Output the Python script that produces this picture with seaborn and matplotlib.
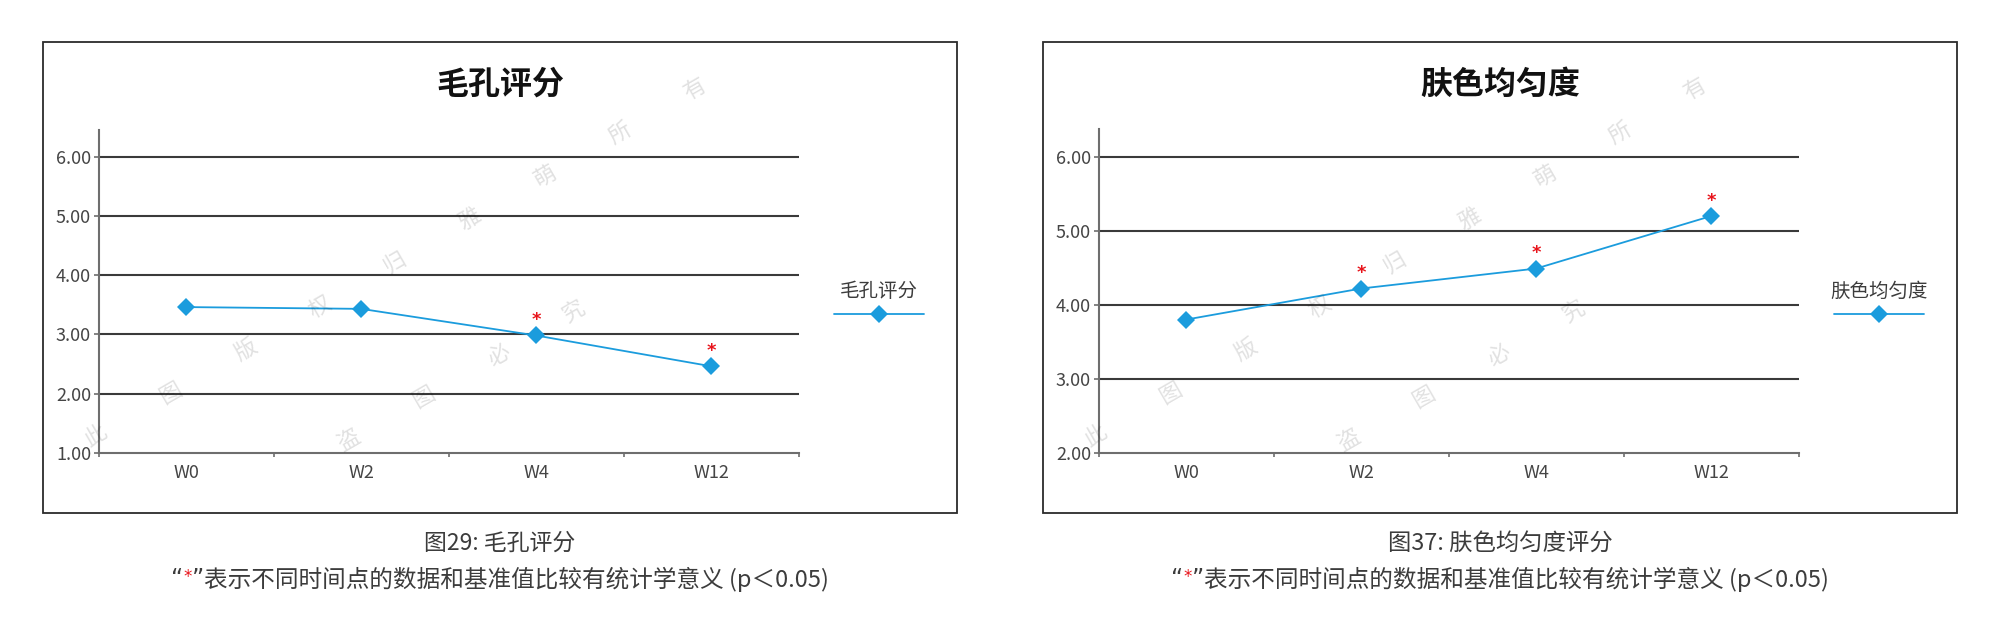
import matplotlib
matplotlib.use("Agg")
import matplotlib.pyplot as plt
import seaborn as sns
import pandas as pd
from matplotlib.patches import Rectangle
from matplotlib.lines import Line2D

# ---------------- data ----------------
categories = ["W0", "W2", "W4", "W12"]
pore_values = [3.46, 3.43, 2.98, 2.46]
pore_sig = [False, False, True, True]
tone_values = [3.80, 4.22, 4.49, 5.20]
tone_sig = [False, True, True, True]
pore_yticks = [1.0, 2.0, 3.0, 4.0, 5.0, 6.0]
tone_yticks = [2.0, 3.0, 4.0, 5.0, 6.0]
titles = ["毛孔评分", "肤色均匀度"]
captions = ["图29: 毛孔评分", "图37: 肤色均匀度评分"]
caption_sizes = [16.5, 16.8]
note_parts = ["“", "*", "”", "表示不同时间点的数据和基准值比较有统计学意义 (p＜0.05)"]
watermark1 = list("此图版权归雅萌所有")
watermark2 = list("盗图必究")

# ---------------- style ----------------
sns.set_theme(style="white")
plt.rcParams["font.family"] = ["Noto Sans CJK SC", "DejaVu Sans"]
plt.rcParams["axes.unicode_minus"] = False

LINE_C = "#1B9CDD"
TXT_C = "#3c3c3c"
W, H = 2000, 625
fig = plt.figure(figsize=(20, 6.25), dpi=100)

def fx(px):
    return px / W

def fy(py):
    return 1 - py / H

panels = [
    dict(off=0, vals=pore_values, sig=pore_sig, yt=pore_yticks, ylim=(1.0, 6.46),
         title=titles[0], cap=captions[0], capfs=caption_sizes[0]),
    dict(off=1000, vals=tone_values, sig=tone_sig, yt=tone_yticks, ylim=(2.0, 6.37),
         title=titles[1], cap=captions[1], capfs=caption_sizes[1]),
]

for p in panels:
    off = p["off"]
    ax = fig.add_axes([fx(off + 98.7), fy(452.7), 700 / W, (452.7 - 129.5) / H])
    df = pd.DataFrame({"idx": range(len(categories)), "val": p["vals"]})
    sns.lineplot(data=df, x="idx", y="val", ax=ax, color=LINE_C, linewidth=1.3,
                 marker="D", markersize=9, markeredgewidth=0, label=p["title"], zorder=5)
    ax.set_xlim(-0.5, len(categories) - 0.5)
    ax.set_ylim(*p["ylim"])
    ax.set_yticks(p["yt"])
    ax.set_yticklabels([f"{v:.2f}" for v in p["yt"]])
    ax.set_xticks(range(len(categories)))
    ax.set_xticklabels(categories)
    ax.set_xticks([i - 0.5 for i in range(len(categories) + 1)], minor=True)
    ax.set_xlabel("")
    ax.set_ylabel("")
    for v in p["yt"]:
        if v > p["ylim"][0]:
            ax.axhline(v, color="#3a3a3a", linewidth=1.5, zorder=1)
    for s in ["top", "right"]:
        ax.spines[s].set_visible(False)
    for s in ["left", "bottom"]:
        ax.spines[s].set_color("#6e6e6e")
        ax.spines[s].set_linewidth(1.5)
    ax.tick_params(axis="y", which="major", direction="out", length=3.5, width=1.2,
                   color="#6e6e6e", pad=2, labelsize=13, labelcolor="#454545", left=True)
    ax.tick_params(axis="x", which="major", length=0, pad=8, labelsize=13, labelcolor="#454545")
    ax.tick_params(axis="x", which="minor", direction="out", length=3, width=1.2,
                   color="#6e6e6e", bottom=True)
    for lab in ax.get_yticklabels() + ax.get_xticklabels():
        lab.set_fontweight("light")
    # significance stars
    for i, (v, s) in enumerate(zip(p["vals"], p["sig"])):
        if s:
            ax.annotate("*", xy=(i, v), xytext=(0, 11), textcoords="offset points",
                        ha="center", va="center", color="#e8141b", fontsize=13,
                        fontweight="bold", family="DejaVu Sans", zorder=6)
    # legend
    handle = Line2D([], [], color=LINE_C, linewidth=1.3, marker="D", markersize=9,
                    markeredgewidth=0)
    leg = ax.legend([handle], [""], title=p["title"], loc="center",
                    bbox_to_anchor=((879 - 98.7) / 700, (452.7 - 302.5) / 323.2),
                    frameon=False, handlelength=5.6, handletextpad=0, borderpad=0,
                    labelspacing=0.3, fontsize=11.5, title_fontsize=14, alignment="center")
    leg.get_title().set_color(TXT_C)
    leg.get_title().set_fontweight("light")
    # panel frame
    fig.patches.append(Rectangle((fx(off + 43), fy(513)), 914 / W, 471 / H, fill=False,
                                 edgecolor="#2b2b2b", linewidth=1.3,
                                 transform=fig.transFigure, figure=fig))
    # title
    fig.text(fx(off + 500), fy(85), p["title"], ha="center", va="center",
             fontsize=23, fontweight="bold", color="#111111")
    # caption
    fig.text(fx(off + 500), fy(543), p["cap"], ha="center", va="center",
             fontsize=p["capfs"], color=TXT_C)
    # watermarks
    for k, ch in enumerate(watermark1):
        fig.text(fx(off + 96 + 74.75 * k), fy(437 - 43.5 * k), ch, rotation=30,
                 ha="center", va="center", fontsize=16, color="black", alpha=0.12, zorder=10)
    for k, ch in enumerate(watermark2):
        fig.text(fx(off + 348 + 75.3 * k), fy(440 - 42.7 * k), ch, rotation=30,
                 ha="center", va="center", fontsize=16, color="black", alpha=0.12, zorder=10)

# note lines with red star, centred under each panel
renderer = fig.canvas.get_renderer()
for off in (0, 1000):
    specs = [(note_parts[0], TXT_C, 17, 0, "DejaVu Sans"),
             (note_parts[1], "#e8141b", 12, 2, "DejaVu Sans"),
             (note_parts[2], TXT_C, 17, 0, "DejaVu Sans"),
             (note_parts[3], TXT_C, 17, 0, None)]
    objs = []
    for s, c, fs, dy, fam in specs:
        kw = {"family": fam} if fam else {}
        t = fig.text(0, fy(579) + dy / H, s, ha="left", va="center", fontsize=fs, color=c, **kw)
        objs.append(t)
    widths = [t.get_window_extent(renderer).width for t in objs]
    total = sum(widths)
    x = off + 500 - total / 2
    for t, w_ in zip(objs, widths):
        t.set_x(fx(x))
        x += w_

fig.savefig("out.png", dpi=100, facecolor="white")
